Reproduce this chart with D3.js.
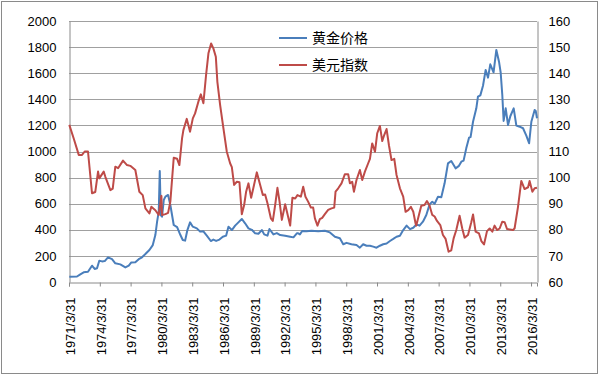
<!DOCTYPE html>
<html>
<head>
<meta charset="utf-8">
<script src="https://cdn.jsdelivr.net/npm/d3@7/dist/d3.min.js"></script>
<style>
  body { margin: 0; background: #fff; }
  svg { display: block; font-family: Lato, "Noto Sans", sans-serif; }
</style>
</head>
<body>
<div id="chart"></div>
<script>
// series names (legend)
const seriesNames = ['黄金价格', '美元指数'];

// x-axis tick labels, every 3 years
const tickLabels = ['1971/3/31', '1974/3/31', '1977/3/31', '1980/3/31', '1983/3/31',
    '1986/3/31', '1989/3/31', '1992/3/31', '1995/3/31', '1998/3/31',
    '2001/3/31', '2004/3/31', '2007/3/31', '2010/3/31', '2013/3/31', '2016/3/31'];

// gold price (left axis), time as decimal year from 1971/3/31
const goldYears = [1971.03, 1971.78, 1972.10, 1972.43, 1972.85, 1973.24, 1973.50, 1973.73, 1973.95, 1974.22,
    1974.48, 1974.80, 1975.19, 1975.51, 1976.00, 1976.49, 1976.82, 1977.07, 1977.46, 1977.79,
    1978.11, 1978.44, 1978.83, 1979.16, 1979.41, 1979.58, 1979.74, 1979.84, 1979.94, 1980.06,
    1980.23, 1980.39, 1980.65, 1980.87, 1981.20, 1981.53, 1981.85, 1982.08, 1982.31, 1982.53,
    1982.79, 1983.06, 1983.45, 1983.77, 1984.09, 1984.42, 1984.81, 1985.06, 1985.33, 1985.65,
    1985.98, 1986.30, 1986.53, 1986.86, 1987.18, 1987.50, 1987.83, 1988.15, 1988.48, 1988.81,
    1989.13, 1989.45, 1989.78, 1990.01, 1990.33, 1990.52, 1990.91, 1991.24, 1991.57, 1992.05,
    1992.54, 1992.86, 1993.19, 1993.32, 1993.49, 1993.71, 1994.13, 1994.62, 1995.27, 1995.92,
    1996.41, 1996.90, 1997.38, 1997.71, 1998.03, 1998.51, 1999.00, 1999.33, 1999.65, 1999.98,
    2000.31, 2000.63, 2000.95, 2001.28, 2001.60, 2001.93, 2002.26, 2002.58, 2002.90, 2003.23,
    2003.55, 2003.88, 2004.21, 2004.53, 2004.86, 2005.14, 2005.47, 2005.80, 2006.12, 2006.38,
    2006.61, 2006.94, 2007.26, 2007.58, 2007.91, 2008.23, 2008.65, 2008.98, 2009.21, 2009.43,
    2009.69, 2009.96, 2010.11, 2010.35, 2010.67, 2010.83, 2011.06, 2011.32, 2011.58, 2011.81,
    2012.03, 2012.35, 2012.62, 2012.88, 2013.04, 2013.20, 2013.33, 2013.53, 2013.76, 2013.98,
    2014.31, 2014.57, 2014.89, 2015.22, 2015.54, 2015.81, 2016.03, 2016.35, 2016.46, 2016.58];
const goldPrices = [40, 42, 59, 74, 78, 125, 100, 105, 163, 158,
    160, 189, 175, 143, 135, 112, 125, 150, 152, 175,
    189, 214, 245, 283, 360, 462, 539, 850, 513, 500,
    628, 654, 667, 590, 437, 420, 360, 322, 317, 398,
    457, 424, 411, 386, 388, 355, 314, 325, 315, 325,
    347, 355, 424, 398, 432, 457, 483, 450, 411, 400,
    373, 370, 398, 365, 355, 406, 365, 375, 360, 355,
    347, 342, 373, 373, 365, 391, 388, 393, 388, 393,
    380, 347, 335, 289, 300, 289, 283, 263, 289, 278,
    278, 271, 263, 278, 289, 295, 314, 330, 347, 355,
    398, 432, 405, 416, 442, 432, 462, 513, 595, 615,
    600, 654, 650, 756, 909, 927, 871, 890, 922, 930,
    1024, 1106, 1110, 1228, 1331, 1420, 1430, 1504, 1625, 1566,
    1668, 1607, 1778, 1688, 1607, 1433, 1234, 1331, 1203, 1270,
    1331, 1198, 1190, 1178, 1121, 1063, 1228, 1318, 1310, 1255];

// US dollar index (right axis)
const usdYears = [1971.03, 1971.46, 1971.95, 1972.27, 1972.53, 1972.85, 1973.24, 1973.56, 1973.83, 1973.95,
    1974.38, 1974.54, 1975.03, 1975.26, 1975.51, 1975.78, 1976.26, 1976.65, 1976.97, 1977.46,
    1977.85, 1978.18, 1978.44, 1978.83, 1979.02, 1979.41, 1979.74, 1980.00, 1980.06, 1980.39,
    1980.65, 1980.87, 1981.20, 1981.53, 1981.75, 1982.01, 1982.14, 1982.47, 1982.79, 1983.06,
    1983.28, 1983.60, 1983.84, 1984.09, 1984.35, 1984.58, 1984.84, 1985.06, 1985.30, 1985.45,
    1985.72, 1986.04, 1986.37, 1986.69, 1986.86, 1987.08, 1987.35, 1987.60, 1987.83, 1988.06,
    1988.25, 1988.48, 1988.74, 1988.96, 1989.29, 1989.62, 1989.88, 1990.10, 1990.33, 1990.66,
    1990.85, 1991.08, 1991.30, 1991.50, 1991.73, 1992.05, 1992.22, 1992.54, 1992.76, 1993.03,
    1993.25, 1993.58, 1993.81, 1994.03, 1994.29, 1994.56, 1994.78, 1994.95, 1995.20, 1995.43,
    1995.66, 1995.92, 1996.24, 1996.57, 1996.83, 1996.96, 1997.22, 1997.54, 1997.87, 1998.19,
    1998.36, 1998.58, 1998.75, 1999.00, 1999.33, 1999.56, 1999.82, 2000.14, 2000.31, 2000.53,
    2000.80, 2001.02, 2001.28, 2001.51, 2001.70, 2001.93, 2002.16, 2002.41, 2002.68, 2002.90,
    2003.23, 2003.55, 2003.78, 2004.04, 2004.30, 2004.53, 2004.75, 2004.82, 2005.08, 2005.31,
    2005.63, 2005.86, 2006.12, 2006.38, 2006.61, 2006.84, 2007.16, 2007.42, 2007.68, 2007.97,
    2008.23, 2008.46, 2008.72, 2009.04, 2009.30, 2009.53, 2009.86, 2010.18, 2010.35, 2010.60,
    2010.93, 2011.16, 2011.42, 2011.71, 2011.97, 2012.23, 2012.45, 2012.69, 2012.94, 2013.20,
    2013.43, 2013.66, 2014.25, 2014.40, 2014.73, 2015.05, 2015.37, 2015.71, 2015.86, 2016.13,
    2016.35, 2016.58];
const usdIndex = [120.2, 115, 108.7, 108.7, 110, 110, 94, 94.5, 102.3, 99.7,
    102.3, 100.3, 95.2, 95.8, 104.2, 103.6, 106.5, 104.8, 104.5, 102.9,
    94.6, 93.3, 88.2, 86.3, 88.8, 87.5, 85.7, 93, 85.7, 86,
    86.5, 90.8, 107.6, 107.2, 104.8, 115, 118.2, 122.5, 117.6, 122.7,
    124.6, 129.1, 131.9, 128.5, 139.3, 147.6, 151.4, 149.5, 146.3, 136.7,
    127.8, 118.9, 109.9, 105.5, 104, 97.2, 98.4, 98.2, 86, 89.5,
    94.6, 97.8, 92.3, 96.1, 102, 97.2, 93.3, 93.5, 90.2, 84.4,
    83.4, 89.5, 96.1, 91, 83.8, 89.8, 87, 81.6, 92.3, 92,
    93.3, 92.7, 96.5, 92.7, 90.8, 88.5, 88.5, 84.4, 81.6, 84.1,
    84.6, 86, 87.6, 88.2, 88.5, 94.6, 95.9, 97.8, 101.3, 101.3,
    97.8, 98.4, 94.6, 99.1, 102.9, 99.1, 102.3, 105.5, 107.2, 113.1,
    109.9, 117, 119.8, 114, 116.3, 118.6, 112.4, 106.7, 107.2, 101,
    95.9, 92.7, 86.9, 87.5, 88.8, 86.9, 82.5, 81.6, 85.7, 89.2,
    89.5, 91, 89.2, 85.7, 85.1, 83.4, 81.8, 78, 76.5, 71.6,
    72.1, 76.7, 79.9, 85.4, 80.5, 77, 78, 82.9, 85.9, 79.3,
    78.6, 75.7, 74.4, 79.5, 80.5, 79.3, 81.6, 79.9, 80.5, 83.1,
    82.9, 80.3, 79.9, 80.6, 88.8, 98.7, 95.6, 96.3, 98.7, 94.6,
    95.9, 96.1];

const leftTicks = [0, 200, 400, 600, 800, 1000, 1200, 1400, 1600, 1800, 2000];
const rightTicks = [60, 70, 80, 90, 100, 110, 120, 130, 140, 150, 160];

const colors = ['#4a7ebb', '#be4b48'];

const width = 600, height = 376;
const plot = { left: 69, right: 537, top: 21, bottom: 282 };

const svg = d3.select('#chart').append('svg')
    .attr('width', width)
    .attr('height', height);

// chart area border
svg.append('rect')
    .attr('x', 1.5).attr('y', 1.5)
    .attr('width', 596).attr('height', 372)
    .attr('fill', '#fff')
    .attr('stroke', '#8a8a8a');

const x = d3.scaleLinear().domain([1971, 2016.58]).range([plot.left, plot.right]);
const yL = d3.scaleLinear().domain([0, 2000]).range([plot.bottom, plot.top]);
const yR = d3.scaleLinear().domain([60, 160]).range([plot.bottom, plot.top]);

// gridlines
svg.append('g')
    .selectAll('line')
    .data(leftTicks.slice(1))
    .enter().append('line')
    .attr('x1', plot.left).attr('x2', plot.right)
    .attr('y1', d => Math.round(yL(d)) + 0.5)
    .attr('y2', d => Math.round(yL(d)) + 0.5)
    .attr('stroke', '#a0a0a0');

// left axis
const axL = svg.append('g')
    .attr('transform', `translate(${plot.left + 0.5},0)`)
    .call(d3.axisLeft(yL).tickValues(leftTicks).tickSize(0).tickPadding(13)
        .tickFormat(d3.format('d')));
axL.select('.domain').attr('stroke', '#8a8a8a');

// right axis
const axR = svg.append('g')
    .attr('transform', `translate(${plot.right + 0.5},0)`)
    .call(d3.axisRight(yR).tickValues(rightTicks).tickSize(0).tickPadding(11)
        .tickFormat(d3.format('d')));
axR.select('.domain').attr('stroke', '#8a8a8a');

// bottom axis
const tickYears = tickLabels.map(s => +s.split('/')[0]);
const axB = svg.append('g')
    .attr('transform', `translate(0,${plot.bottom + 0.5})`)
    .call(d3.axisBottom(x).tickValues(tickYears).tickSize(4)
        .tickFormat((d, i) => tickLabels[i]));
axB.select('.domain').attr('stroke', '#8a8a8a');
axB.selectAll('.tick line').attr('stroke', '#8a8a8a');
axB.selectAll('.tick text')
    .attr('transform', 'rotate(-90)')
    .attr('text-anchor', 'end')
    .attr('x', -15)
    .attr('y', 0)
    .attr('dy', '0.4em')
    .attr('dx', 0);

svg.selectAll('.tick text')
    .attr('fill', '#000')
    .style('font-size', '13px');

// lines
const goldLine = d3.line()
    .x((d, i) => x(goldYears[i]))
    .y(d => yL(d));
const usdLine = d3.line()
    .x((d, i) => x(usdYears[i]))
    .y(d => yR(d));

svg.append('path')
    .datum(goldPrices)
    .attr('d', goldLine)
    .attr('fill', 'none')
    .attr('stroke', colors[0])
    .attr('stroke-width', 2)
    .attr('stroke-linejoin', 'round');

svg.append('path')
    .datum(usdIndex)
    .attr('d', usdLine)
    .attr('fill', 'none')
    .attr('stroke', colors[1])
    .attr('stroke-width', 2)
    .attr('stroke-linejoin', 'round');

// legend
const legend = svg.append('g').attr('transform', 'translate(279,38)');
seriesNames.forEach((name, i) => {
    const g = legend.append('g').attr('transform', `translate(0,${i * 27})`);
    g.append('line')
        .attr('x1', 0).attr('x2', 28)
        .attr('stroke', colors[i])
        .attr('stroke-width', 2);
    g.append('text')
        .attr('x', 33).attr('y', 0)
        .attr('dy', '0.35em')
        .style('font-family', '"Noto Sans CJK SC", sans-serif')
        .style('font-size', '14px')
        .attr('fill', '#000')
        .text(name);
});
</script>
</body>
</html>
